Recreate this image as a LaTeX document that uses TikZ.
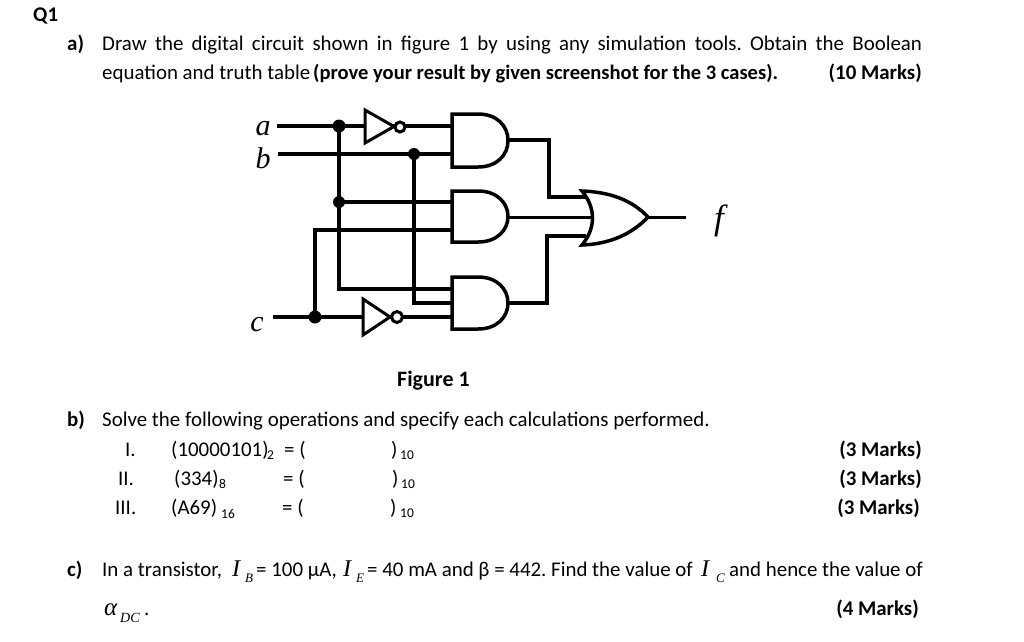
\documentclass[tikz,border=0pt]{standalone}
\usepackage{fontspec}
\setmainfont{Carlito}
\newfontfamily\lsfam{Liberation Serif}
\newcommand{\txtsz}{\fontsize{20.9}{24}\selectfont\frenchspacing}
\tikzset{
  x=1pt,y=-1pt,
  wire/.style={line width=3.3pt,line join=miter,line cap=butt},
  thinwire/.style={line width=3pt},
  gate/.style={line width=3.5pt,fill=white,line join=miter},
  jdot/.style={circle,fill=black,inner sep=0pt,minimum size=13pt},
  bubble/.style={circle,draw,line width=3pt,fill=white,inner sep=0pt,minimum size=10pt},
  txtl/.style={anchor=base west,inner sep=0pt,font=\txtsz},
  txtb/.style={anchor=base west,inner sep=0pt,font=\txtsz\bfseries},
  labelr/.style={anchor=base east,inner sep=0pt,font=\txtsz\bfseries},
  varname/.style={anchor=base,inner sep=0pt,font=\fontsize{30}{33}\selectfont\lsfam\itshape},
  subnum/.style={anchor=base west,inner sep=0pt,font=\fontsize{13.5}{15}\selectfont},
  isym/.style={anchor=base west,inner sep=0pt,font=\fontsize{24}{26}\selectfont\lsfam\itshape},
  isub/.style={anchor=base west,inner sep=0pt,font=\fontsize{13}{15}\selectfont\lsfam\itshape},
}
\begin{document}
\begin{tikzpicture}
\useasboundingbox (0,0) rectangle (1024,641);
% text
\begin{scope}[yshift=-1pt]
\node[txtb] (q1) at (33,20) {Q1};
\node[txtb] (pa) at (67,49) {a)};
\node[txtl] (l1) at (102,49) {\makebox[820pt][s]{Draw the digital circuit shown in figure 1 by using any simulation tools. Obtain the Boolean}};
\node[txtl] (l2) at (102,78) {equation and truth table};
\node[txtb,font=\fontsize{20.55}{24}\selectfont\bfseries] (l2b) at (313,78) {(prove your result by given screenshot for the 3 cases).};
\node[labelr] (m1) at (922,78) {(10 Marks)};
\node[txtb,font=\fontsize{22}{24}\selectfont\bfseries] (fig) at (397,385) {Figure 1};
\node[txtb] (pb) at (67,425) {b)};
\node[txtl] (l3) at (102,425) {Solve the following operations and specify each calculations performed.};
\node[txtl] (r1) at (125,455) {I.};
\node[txtl] (v1) at (171,455) {(10000101)};
\node[subnum] (s1) at (267,458) {2};
\node[txtl] (e1) at (284,455) {= (};
\node[txtl] (c1) at (391,455) {)};
\node[subnum] (t1) at (400,458) {10};
\node[labelr] (m2) at (922,455) {(3 Marks)};
\node[txtl] (r2) at (118,484) {II.};
\node[txtl] (v2) at (174,484) {(334)};
\node[subnum] (s2) at (219,487) {8};
\node[txtl] (e2) at (283,484) {= (};
\node[txtl] (c2) at (392,484) {)};
\node[subnum] (t2) at (401,487) {10};
\node[labelr] (m3) at (922,484) {(3 Marks)};
\node[txtl] (r3) at (115,513) {III.};
\node[txtl] (v3) at (171,513) {(A69)};
\node[subnum] (s3) at (221,517) {16};
\node[txtl] (e3) at (282,513) {= (};
\node[txtl] (c3) at (390,513) {)};
\node[subnum] (t3) at (400,516) {10};
\node[labelr] (m4) at (920,513) {(3 Marks)};
\node[txtb] (pc) at (67,575) {c)};
\node[txtl] (l4) at (102,575) {In a transistor,};
\node[isym] (ib) at (232,575) {I};
\node[isub] (ibs) at (245,581) {B};
\node[txtl] (l5) at (256,575) {= 100 µA,};
\node[isym] (ie) at (343,575) {I};
\node[isub] (ies) at (356,581) {E};
\node[txtl] (l6) at (367,575) {= 40 mA and β = 442. Find the value of};
\node[isym] (ic) at (701,575) {I};
\node[isub] (ics) at (716,581) {C};
\node[txtl] (l7) at (729,575) {and hence the value of};
\node[anchor=base west,inner sep=0pt,font=\fontsize{25}{27}\selectfont\lsfam\itshape] (al) at (104,614) {α};
\node[isub,font=\fontsize{14}{16}\selectfont\lsfam\itshape] (dc) at (120,621) {DC};
\node[txtl] (dot) at (144,614) {.};
\node[labelr] (m5) at (919,614) {(4 Marks)};
\end{scope}
\node[varname] (a) at (263,135) {a};
\node[varname] (b) at (263,168) {b};
\node[varname] (c) at (257,331) {c};
\node[varname,font=\fontsize{35}{38}\selectfont\lsfam\itshape] (f) at (719,229) {f};
% pins and junctions
\coordinate (as) at (277,126);
\coordinate (bs) at (278,154);
\coordinate (cs) at (273,317);
\coordinate (ja) at (339,126);
\coordinate (jb) at (414,154);
\coordinate (ja2) at (339,202);
\coordinate (jc) at (315,317);
\coordinate (g1a) at (452,126);
\coordinate (g1b) at (452,154);
\coordinate (g2a) at (452,202);
\coordinate (g2c) at (452,230);
\coordinate (g3a) at (452,289);
\coordinate (g3b) at (452,303);
\coordinate (g3c) at (452,317);
\coordinate (g1o) at (508,140);
\coordinate (g2o) at (508,217);
\coordinate (g3o) at (508,303);
\coordinate (o1) at (586,197);
\coordinate (o2) at (592,217);
\coordinate (o3) at (586,236);
\coordinate (oo) at (648,217);
\coordinate (fe) at (686,217);
% wires
\draw[wire] (as) -- (g1a);
\draw[wire] (bs) -- (g1b);
\draw[wire] (cs) -- (g3c);
\draw[wire] (ja) -- (ja |- g3a) -- (g3a);
\draw[wire] (jb) -- (jb |- g3b) -- (g3b);
\draw[wire] (ja2) -- (g2a);
\draw[wire] (jc) -- (jc |- g2c) -- (g2c);
\draw[wire] (g1o) -- (549,140) -- (549,197) -- (o1);
\draw[wire] (g3o) -- (547,303) -- (547,236) -- (o3);
% junctions
\node[jdot] (d1) at (ja) {};
\node[jdot,minimum size=12pt] (d2) at (jb) {};
\node[jdot,minimum size=12pt] (d3) at (ja2) {};
\node[jdot] (d4) at (jc) {};
% inverters
\draw[gate,line width=3pt] (365,110) -- (394,126.5) -- (365,143) -- cycle;
\node[bubble] (n1) at (400,127) {};
\draw[gate,line width=3pt] (363,299) -- (390,317) -- (363,335) -- cycle;
\node[bubble,minimum size=11pt] (n2) at (397,317) {};
% AND gates
\foreach \gt/\gb in {114/167,191/242,277/329}{
  \draw[gate] (452,\gt) -- (478,\gt) .. controls (497,\gt) and (508,\gt+12) .. (508,{(\gt+\gb)/2})
     .. controls (508,\gb-12) and (497,\gb) .. (478,\gb) -- (452,\gb) -- cycle;
}
% OR gate
\draw[gate] (582,191) .. controls (610,192) and (632,200) .. (648,217)
   .. controls (632,234) and (610,244) .. (582,245)
   .. controls (596,228) and (596,208) .. (582,191) -- cycle;
\draw[thinwire] (g2o) -- (o2);
\draw[thinwire] (oo) -- (fe);
\end{tikzpicture}
\end{document}
